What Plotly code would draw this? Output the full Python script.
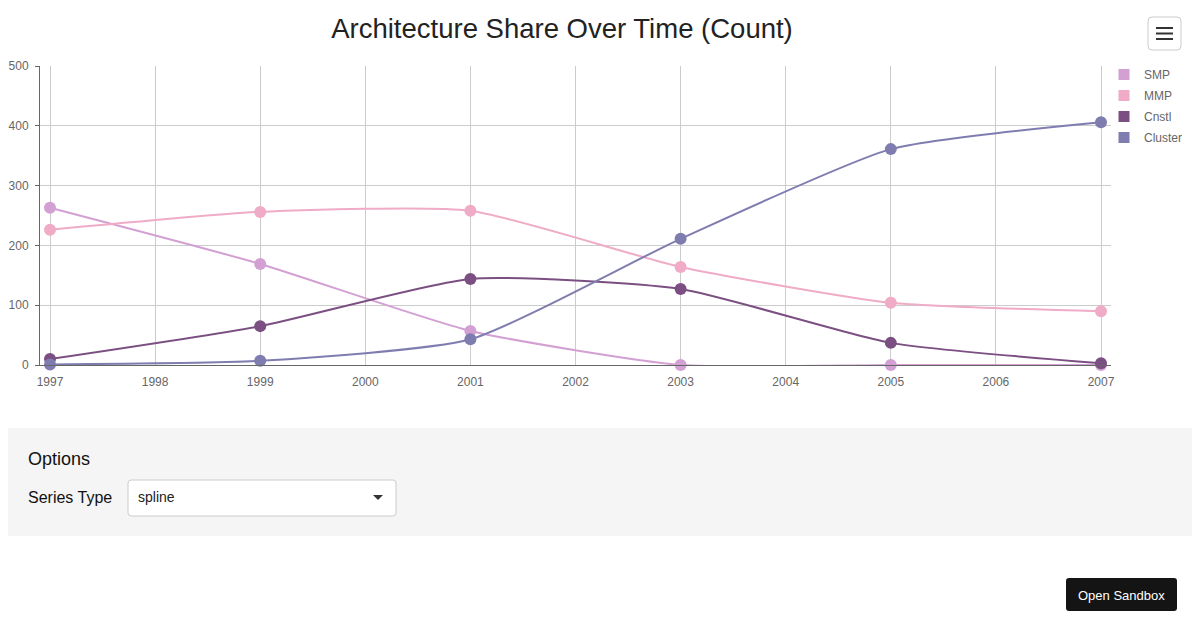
import plotly.graph_objects as go

years = [1997, 1999, 2001, 2003, 2005, 2007]
series_names = ["SMP", "MMP", "Cnstl", "Cluster"]
smp = [263, 169, 57, 0, 0, 0]
mmp = [226, 256, 258, 164, 104, 90]
cnstl = [10, 65, 144, 127, 37, 3]
cluster = [1, 7, 43, 211, 361, 406]
x_ticks = list(range(1997, 2008))

COLORS = ["#d3a0d3", "#f0abc6", "#7b4f82", "#7f7db0"]
TEXT, MUTED, GRID = "#222222", "#666666", "#cccccc"
FONT = "Liberation Sans, Arial, Helvetica, sans-serif"

# the page body adds an 8px margin, so work in page pixels and shift
OFF = 8
W, H = 1200 - 2 * OFF, 630 - 2 * OFF
L, R, T, B = 40, 1111, 66, 365  # plot area, page pixels


def px(x):
    return (x - L) / (R - L)


def py(y):
    return (B - y) / (B - T)


def rounded(x0, y0, x1, y1, r):
    # rounded rectangle path in page pixels -> paper coords
    pts = [
        ("M", x0 + r, y0), ("L", x1 - r, y0), ("Q", x1, y0, x1, y0 + r),
        ("L", x1, y1 - r), ("Q", x1, y1, x1 - r, y1), ("L", x0 + r, y1),
        ("Q", x0, y1, x0, y1 - r), ("L", x0, y0 + r), ("Q", x0, y0, x0 + r, y0),
    ]
    out = []
    for p in pts:
        cmd, nums = p[0], p[1:]
        coords = []
        for i in range(0, len(nums), 2):
            coords.append(f"{px(nums[i])},{py(nums[i + 1])}")
        out.append(cmd + " " + " ".join(coords))
    return " ".join(out) + " Z"


fig = go.Figure()

for name, vals, col in zip(series_names, [smp, mmp, cnstl, cluster], COLORS):
    fig.add_trace(go.Scatter(
        x=years, y=vals, mode="lines+markers", name=name, legendgroup=name,
        line=dict(color=col, width=2, shape="spline", smoothing=0.55),
        marker=dict(color=col, size=12),
        showlegend=False, cliponaxis=False,
    ))
    # square legend swatch
    fig.add_trace(go.Scatter(
        x=[None], y=[None], mode="markers", name=name, legendgroup=name,
        marker=dict(color=col, size=11, symbol="square"),
    ))

shapes = []
annotations = []

# hamburger button
shapes.append(dict(type="path", xref="paper", yref="paper",
                   path=rounded(1148, 17, 1181, 50, 4),
                   line=dict(color="#cccccc", width=1), fillcolor="white"))
for yy in [28, 33.5, 39]:
    shapes.append(dict(type="line", xref="paper", yref="paper",
                       x0=px(1156), x1=px(1173), y0=py(yy), y1=py(yy),
                       line=dict(color="#333333", width=2)))

# options panel
shapes.append(dict(type="rect", xref="paper", yref="paper",
                   x0=px(8), x1=px(1192), y0=py(536), y1=py(428),
                   line=dict(width=0), fillcolor="#f5f5f5", layer="below"))
shapes.append(dict(type="path", xref="paper", yref="paper",
                   path=rounded(128, 480, 396, 516, 3),
                   line=dict(color="#cccccc", width=1), fillcolor="white"))
shapes.append(dict(type="path", xref="paper", yref="paper",
                   path=f"M {px(373)},{py(495)} L {px(383)},{py(495)} L {px(378)},{py(500)} Z",
                   line=dict(width=0), fillcolor="#333333"))

# open sandbox button
shapes.append(dict(type="path", xref="paper", yref="paper",
                   path=rounded(1066, 578, 1177, 611, 3),
                   line=dict(width=0), fillcolor="#141414"))

annotations += [
    dict(text="Options", x=px(26), y=py(459), xref="paper", yref="paper",
         xanchor="left", yanchor="middle", showarrow=False,
         font=dict(size=18, color="#111111")),
    dict(text="Series Type", x=px(26), y=py(497), xref="paper", yref="paper",
         xanchor="left", yanchor="middle", showarrow=False,
         font=dict(size=16, color="#111111")),
    dict(text="spline", x=px(136), y=py(497), xref="paper", yref="paper",
         xanchor="left", yanchor="middle", showarrow=False,
         font=dict(size=14, color="#222222")),
    dict(text="Open Sandbox", x=px(1121.5), y=py(595), xref="paper", yref="paper",
         xanchor="center", yanchor="middle", showarrow=False,
         font=dict(size=13, color="white")),
]

fig.update_layout(
    width=W, height=H,
    margin=dict(l=L - OFF, r=W - (R - OFF), t=T - OFF, b=H - (B - OFF), autoexpand=False),
    paper_bgcolor="white", plot_bgcolor="white",
    font=dict(family=FONT, color=MUTED, size=12),
    title=dict(text="Architecture Share Over Time (Count)", x=(562 - OFF) / W, xanchor="center",
               y=1 - (28 - OFF) / H, yanchor="middle", font=dict(size=27.5, color=TEXT)),
    xaxis=dict(range=[1997 - 10 / 105.1, 2007 + 10 / 105.1], tickvals=x_ticks,
               showgrid=True, gridcolor=GRID, gridwidth=1, zeroline=False,
               showline=True, linecolor="#666666", linewidth=1,
               ticks="", ticklabelstandoff=6, tickfont=dict(size=12, color=MUTED)),
    yaxis=dict(range=[0, 500], dtick=100, showgrid=True, gridcolor=GRID,
               zeroline=False, showline=True, linecolor="#666666", linewidth=1,
               ticks="outside", ticklen=4, tickcolor="#666666", ticklabelstandoff=4,
               tickfont=dict(size=12, color=MUTED)),
    legend=dict(x=px(1104), y=py(60), xanchor="left", yanchor="top",
                font=dict(size=12, color=MUTED), itemwidth=30,
                tracegroupgap=2, bgcolor="rgba(0,0,0,0)"),
    shapes=shapes, annotations=annotations,
    hovermode="closest",
)

fig.write_html("out.html")
